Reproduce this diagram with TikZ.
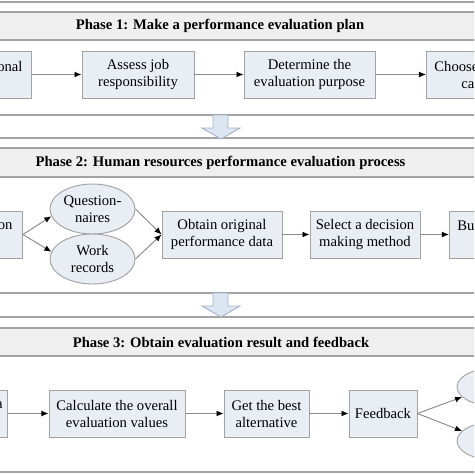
\documentclass[tikz,border=0pt]{standalone}
\usepackage{fontspec}
\setmainfont{Liberation Serif}
\usetikzlibrary{shapes.geometric,arrows.meta}
\definecolor{boxfill}{HTML}{E9EEF5}
\definecolor{boxline}{HTML}{A3A3A3}
\definecolor{bandfill}{HTML}{EFEFEF}
\definecolor{arrowfill}{HTML}{DCE6F2}
\definecolor{arrowline}{HTML}{A8B4C4}
\definecolor{linkgray}{HTML}{8A8A8A}
\tikzset{
  box/.style={draw=boxline, fill=boxfill, line width=0.8pt, align=center,
    minimum height=1.41cm, inner sep=2pt, font=\fontsize{12.5}{14.5}\selectfont},
  oval/.style={ellipse, draw=boxline, fill=boxfill, line width=0.8pt, align=center,
    minimum width=2.55cm, minimum height=1.5cm, inner sep=0pt,
    font=\fontsize{12.5}{14.5}\selectfont},
  frame/.style={draw=boxline, line width=1.1pt},
  band/.style={draw=boxline, fill=bandfill, line width=1pt},
  title/.style={font=\bfseries\fontsize{12.5}{14.5}\selectfont},
  link/.style={draw=linkgray, line width=0.8pt, -{Latex[length=6pt,width=5pt,color=black]}},
  downarrow/.style={draw=arrowline, fill=arrowfill, line width=0.8pt}
}
\begin{document}
\begin{tikzpicture}[x=0.03cm, y=-0.03cm]
  \useasboundingbox (0,0) rectangle (474,474);
  \clip (0,0) rectangle (474,474);
  % phase frames and title bands
  \draw[frame] (-20,2) rectangle (500,115);
  \draw[band] (-20,12) rectangle (500,40);
  \draw[frame] (-20,138) rectangle (500,293);
  \draw[band] (-20,148) rectangle (500,177);
  \draw[frame] (-20,317) rectangle (500,472);
  \draw[band] (-20,328) rectangle (500,356);
  \node[title] (t1) at (220,26) {Phase 1: Make a performance evaluation plan};
  \node[title] (t2) at (220.5,162.5) {Phase 2: Human resources performance evaluation process};
  \node[title] (t3) at (221,342) {Phase 3: Obtain evaluation result and feedback};
  % block arrows between phases
  \draw[downarrow] (213,115) -- (228,115) -- (228,128) -- (240,128) -- (221,139)
    -- (202,128) -- (213,128) -- cycle;
  \draw[downarrow] (213,293) -- (228,293) -- (228,306) -- (240,306) -- (221,317)
    -- (202,306) -- (213,306) -- cycle;
  % phase 1
  \node[box, anchor=east, text width=3cm, align=right, inner xsep=0.27cm] (goal) at (32,74.5) {onal\\~};
  \node[box, minimum width=3.36cm] (assess) at (138,74.5) {Assess job\\responsibility};
  \node[box, minimum width=3.93cm] (purpose) at (309.5,74.5) {Determine the\\evaluation purpose};
  \node[box, anchor=west, text width=3cm, align=left, inner xsep=0.24cm] (choose) at (426,74.5) {Choose\\\hspace*{0.81cm}ca};
  % phase 2
  \node[box, anchor=east, text width=3cm, align=right, inner xsep=0.3cm] (index) at (23,234.5) {on\\~};
  \node[oval] (quest) at (92.5,209) {Question-\\naires};
  \node[oval] (work) at (92.5,259) {Work\\records};
  \node[box, minimum width=3.6cm] (data) at (222,234.5) {Obtain original\\performance data};
  \node[box, minimum width=3.3cm] (method) at (365,234.5) {Select a decision\\making method};
  \node[box, anchor=west, text width=3cm, align=left, inner xsep=0.24cm] (build) at (449,234.5) {Bu\\~};
  % phase 3
  \node[box, anchor=east, text width=3cm, align=right, inner xsep=0.15cm] (weight) at (8,413.5) {a\\~};
  \node[box, minimum width=4.08cm] (overall) at (117,413.5) {Calculate the overall\\evaluation values};
  \node[box, minimum width=2.55cm] (best) at (266.5,413.5) {Get the best\\alternative};
  \node[box, minimum width=2.04cm] (feedback) at (383,413.5) {Feedback};
  \node[oval, minimum height=1.2cm] (upper) at (499.5,387) {};
  \node[oval, minimum height=1.2cm] (lower) at (499.5,441) {};
  \begin{scope}[link]
    \draw (goal) -- (assess);
    \draw (assess) -- (purpose);
    \draw (purpose) -- (choose);
    \draw (index.east) -- (quest.190);
    \draw (index.east) -- (work.170);
    \draw (quest.east) -- (data.west);
    \draw (work.east) -- (data.west);
    \draw (data) -- (method);
    \draw (method) -- (build);
    \draw (weight) -- (overall);
    \draw (overall) -- (best);
    \draw (best) -- (feedback);
    \draw (feedback.east) -- (upper.195);
    \draw (feedback.east) -- (lower.165);
  \end{scope}
\end{tikzpicture}
\end{document}
